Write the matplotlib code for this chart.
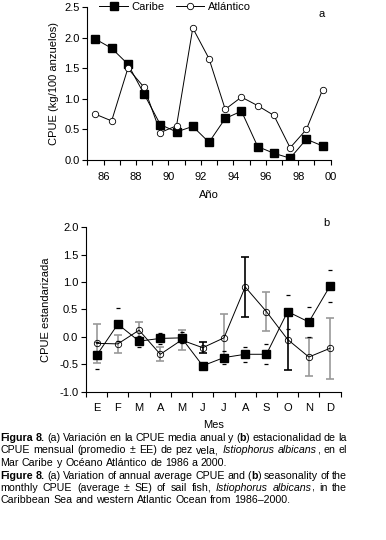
import re
import numpy as np
import matplotlib
matplotlib.use('Agg')
import matplotlib.pyplot as plt
from matplotlib import font_manager as fm
from matplotlib import patheffects as pe

# --- data ---
years = np.arange(1986, 2001)
caribe_anual = [1.98, 1.83, 1.57, 1.08, 0.58, 0.46, 0.55, 0.29, 0.68, 0.80, 0.22, 0.11, 0.03, 0.34, 0.23]
atlantico_anual = [0.75, 0.64, 1.50, 1.19, 0.45, 0.56, 2.16, 1.66, 0.83, 1.03, 0.89, 0.73, 0.20, 0.50, 1.15]

meses = ['E', 'F', 'M', 'A', 'M', 'J', 'J', 'A', 'S', 'O', 'N', 'D']
caribe_mes = [-0.34, 0.23, -0.08, -0.03, -0.02, -0.53, -0.38, -0.32, -0.32, 0.46, 0.27, 0.93]
caribe_ee = [0.25, 0.30, 0.10, 0.10, 0.10, 0.05, 0.12, 0.14, 0.18, 0.31, 0.27, 0.29]
atlantico_mes = [-0.12, -0.13, 0.12, -0.32, -0.06, -0.20, -0.02, 0.91, 0.46, -0.05, -0.37, -0.21]
atlantico_ee = [0.36, 0.16, 0.15, 0.13, 0.18, 0.10, 0.43, 0.55, 0.36, 0.56, 0.34, 0.56]
atl_bar_black = [False, False, False, False, False, True, False, True, False, True, False, False]

caption = [
    ("**Figura 8.** (a) Variación en la CPUE media anual y (**b**) estacionalidad de la", True),
    ("CPUE mensual (promedio ± EE) de pez vela, _Istiophorus albicans_, en el", True),
    ("Mar Caribe y Océano Atlántico de 1986 a 2000.", False),
    ("**Figure 8.** (a) Variation of annual average CPUE and (**b**) seasonality of the", True),
    ("monthly CPUE (average ± SE) of sail fish, _Istiophorus albicans_, in the", True),
    ("Caribbean Sea and western Atlantic Ocean from 1986–2000.", False),
]
caption_base = [441, 453.3, 465.7, 479, 490.7, 502.7]

W, H = 386, 540
NARROW = ['Liberation Sans Narrow', 'Liberation Sans', 'DejaVu Sans']
plt.rcParams['font.family'] = ['Liberation Sans', 'DejaVu Sans']
plt.rcParams['font.size'] = 8
plt.rcParams['axes.linewidth'] = 0.8

# check which narrow faces exist, fake the missing ones
narrow_faces = [f for f in fm.fontManager.ttflist if f.name == 'Liberation Sans Narrow']
has_narrow = len(narrow_faces) > 0
has_nbold = any(f.weight in ('bold', 700) and f.style == 'normal' for f in narrow_faces)
has_nital = any(f.style == 'italic' and f.weight not in ('bold', 700) for f in narrow_faces)

fig = plt.figure(figsize=(W / 100, H / 100), dpi=100)


def px_axes(l, t, r, b):
    return fig.add_axes([l / W, 1 - b / H, (r - l) / W, (b - t) / H])


def style_axes(ax):
    for s in ['top', 'right']:
        ax.spines[s].set_visible(False)
    ax.tick_params(direction='out', length=3.5, width=0.8, pad=2, labelsize=8)


# ---- panel a ----
ax1 = px_axes(87.3, 7.3, 330.7, 160)
style_axes(ax1)
xa = years - 1900 - 0.5
ax1.plot(xa, caribe_anual, '-', color='black', lw=0.7, marker='s', ms=5.8,
         mfc='black', mec='black', label='Caribe', zorder=3)
ax1.plot(xa, atlantico_anual, '-', color='black', lw=0.7, marker='o', ms=4.6,
         mfc='white', mec='black', mew=0.6, label='Atlántico', zorder=4)
ax1.set_xlim(85, 100)
ax1.set_ylim(0, 2.5)
ax1.set_xticks(np.arange(86, 101, 2))
ax1.set_xticks(np.arange(85, 101, 1), minor=True)
ax1.set_xticklabels(['86', '88', '90', '92', '94', '96', '98', '00'])
ax1.tick_params(axis='x', which='both', direction='out', length=3.5, width=0.8, pad=5)
ax1.set_yticks(np.arange(0, 2.51, 0.5))
ax1.set_yticklabels(['%.1f' % v for v in np.arange(0, 2.51, 0.5)])
ax1.set_ylabel('CPUE (kg/100 anzuelos)', labelpad=4, family=NARROW, fontsize=8)
ax1.set_xlabel('Año', labelpad=6)
ax1.legend(loc='center', bbox_to_anchor=(0.36, 1.0), ncol=2, frameon=False,
           handlelength=2.6, handletextpad=0.3, columnspacing=1.0, fontsize=8,
           borderpad=0)
ax1.text(0.964, 0.955, 'a', transform=ax1.transAxes, ha='center', va='center', fontsize=8)

# ---- panel b ----
ax2 = px_axes(86, 227.3, 340.7, 391.5)
style_axes(ax2)
xm = np.arange(len(meses)) + 0.5
for i in range(len(meses)):
    c = 'black' if atl_bar_black[i] else '#999999'
    ax2.errorbar(xm[i], atlantico_mes[i], yerr=atlantico_ee[i], fmt='none',
                 ecolor=c, elinewidth=1.2, capsize=3, capthick=1.2, zorder=2)
# caribe bars only show their caps in the original
ax2.errorbar(xm, caribe_mes, yerr=caribe_ee, fmt='none', ecolor='black',
             elinewidth=0, capsize=1.6, capthick=0.9, zorder=2)
ax2.plot(xm, caribe_mes, '-', color='black', lw=0.7, marker='s', ms=5.4,
         mfc='black', mec='black', zorder=3)
ax2.plot(xm, atlantico_mes, '-', color='black', lw=0.7, marker='o', ms=4.6,
         mfc='none', mec='black', mew=0.6, zorder=4)
ax2.set_xlim(0, 12)
ax2.set_ylim(-1, 2)
ax2.set_xticks(np.arange(0, 13))
ax2.set_xticklabels([])
ax2.set_xticks(xm, minor=True)
ax2.set_xticklabels(meses, minor=True)
ax2.tick_params(axis='x', which='minor', length=0, pad=8, labelsize=8)
ax2.set_yticks(np.arange(-1, 2.01, 0.5))
ax2.set_yticklabels(['%.1f' % v for v in np.arange(-1, 2.01, 0.5)])
ax2.set_ylabel('CPUE estandarizada', labelpad=6, family=NARROW, fontsize=8)
ax2.set_xlabel('Mes', labelpad=5)
ax2.text(0.945, 1.026, 'b', transform=ax2.transAxes, ha='center', va='center', fontsize=8)

# ---- caption, justified word by word ----
renderer = fig.canvas.get_renderer()
cap_size = 7.7
left_px, right_px = 0.5, 347


def parse(line):
    words, bold, ital = [], False, False
    for raw in line.split(' '):
        pieces = []
        for tok in re.split(r'(\*\*|_)', raw):
            if tok == '**':
                bold = not bold
            elif tok == '_':
                ital = not ital
            elif tok:
                pieces.append((tok, bold, ital))
        words.append(pieces)
    return words


def make(s, b, i):
    kw = dict(fontsize=cap_size, va='baseline', ha='left', family=NARROW)
    if b:
        if has_nbold or not has_narrow:
            kw['fontweight'] = 'bold'
        else:
            kw['path_effects'] = [pe.withStroke(linewidth=0.7, foreground='black')]
    if i and (has_nital or not has_narrow):
        kw['fontstyle'] = 'italic'
    return fig.text(0, 0, s, **kw)


t1 = make('a a', False, False)
t2 = make('aa', False, False)
space = t1.get_window_extent(renderer).width - t2.get_window_extent(renderer).width
t1.remove()
t2.remove()

for (line, justify), base in zip(caption, caption_base):
    words = parse(line)
    objs = []
    widths = []
    for w in words:
        wo = []
        ww = 0
        for s, b, i in w:
            t = make(s, b, i)
            pw = t.get_window_extent(renderer).width
            wo.append((t, pw))
            ww += pw
        objs.append(wo)
        widths.append(ww)
    total = sum(widths)
    if justify and len(words) > 1:
        gap = (right_px - left_px - total) / (len(words) - 1)
    else:
        gap = space
    x = left_px
    for wo, ww in zip(objs, widths):
        xx = x
        for t, pw in wo:
            t.set_position((xx / W, 1 - base / H))
            xx += pw
        x += ww + gap

fig.savefig('out.png', dpi=100)
